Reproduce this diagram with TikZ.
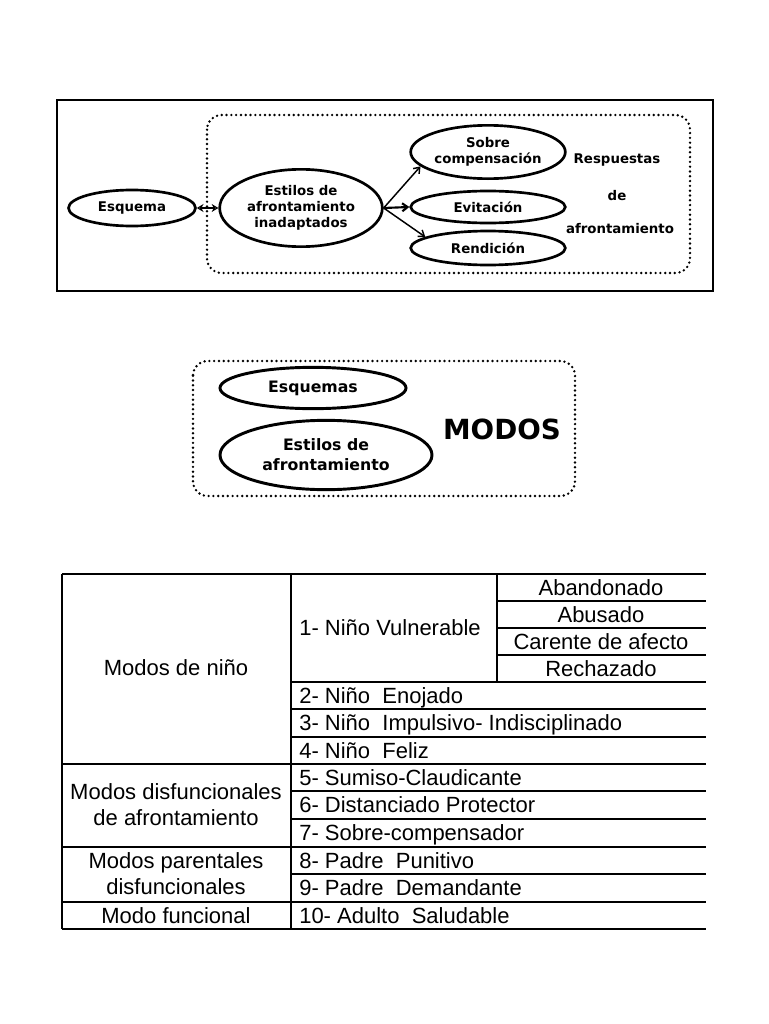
\documentclass[tikz,border=0pt]{standalone}
\usepackage{fontspec}
\setmainfont{Liberation Sans}
\newfontfamily\dvfont{DejaVu Sans}
\usetikzlibrary{shapes.geometric,arrows.meta}
\begin{document}
\begin{tikzpicture}[x=0.75pt,y=-0.75pt,
  ell/.style={draw, ellipse, line width=2pt, inner sep=0pt, align=center,
    font=\dvfont\bfseries\fontsize{10}{12}\selectfont},
  ellb/.style={draw, ellipse, line width=2.2pt, inner sep=0pt, align=center,
    font=\dvfont\bfseries\fontsize{11.8}{15}\selectfont},
  dotbox/.style={draw, line width=2pt, dash pattern=on 0pt off 3.6pt, line cap=round, rounded corners=11pt},
  lbl/.style={font=\dvfont\bfseries\fontsize{10}{12}\selectfont, inner sep=0pt},
  arr/.style={line width=1.1pt, -{Straight Barb[length=4pt,width=6pt]}},
  tl/.style={line width=1.05pt},
  tt/.style={font=\fontsize{16.5}{19.5}\selectfont, inner sep=0pt, align=center},
  tc/.style={tt, text height=11.8pt, text depth=0pt},
]
\useasboundingbox[fill=white] (0,0) rectangle (768,1024);

% ---------- top diagram ----------
\draw[line width=1.1pt] (57,100) rectangle (713,291);
\draw[dotbox] (207,115) rectangle (690,273);

\node[ell, minimum width=95.25pt, minimum height=27pt] (esq) at (132,208) {Esquema};
\node[ell, minimum width=122pt, minimum height=58pt] (est) at (301,208) {Estilos de\\afrontamiento\\inadaptados};
\node[ell, minimum width=116pt, minimum height=40pt] (sob) at (488,152) {Sobre\\compensación};
\node[ell, minimum width=116pt, minimum height=24pt] (evi) at (488,207) {Evitación};
\node[ell, minimum width=116pt, minimum height=25.5pt] (ren) at (488,248) {Rendición};

\node[lbl] (r1) at (617,160) {Respuestas};
\node[lbl] (r2) at (617,196) {de};
\node[lbl] (r3) at (620,229) {afrontamiento};

\draw[line width=1.6pt, {Stealth[open,length=5pt,width=6pt]}-{Stealth[open,length=5pt,width=6pt]}] (esq.east) -- (est.west);
\draw[arr] (est.east) -- (sob.192);
\draw[arr, line width=1.6pt] (est.east) -- (evi.west);
\draw[arr] (est.east) -- (ren.170);

% ---------- middle diagram ----------
\draw[dotbox] (193,361) rectangle (575,496);
\node[ellb, minimum width=139.5pt, minimum height=31pt] (esqs) at (313,388) {Esquemas};
\node[ellb, minimum width=159pt, minimum height=52pt] (esta) at (326,455) {Estilos de\\afrontamiento};
\node[font=\dvfont\bfseries\fontsize{20.8}{24}\selectfont, inner sep=0pt] (modos) at (502,429) {MODOS};

% ---------- table ----------
\draw[tl] (62,574) -- (706,574);
\draw[tl] (62,929) -- (706,929);
\draw[tl] (62,574) -- (62,929);
\draw[tl] (291,574) -- (291,929);
\draw[tl] (497,574) -- (497,682);
\foreach \y in {601,628,655} \draw[tl] (497,\y) -- (706,\y);
\foreach \y in {682,709,737,791,819,874} \draw[tl] (291,\y) -- (706,\y);
\foreach \y in {764,847,902} \draw[tl] (62,\y) -- (706,\y);

\node[tc] (g1) at (176,668) {Modos de niño};
\node[tt] (g2) at (176,805) {Modos disfuncionales\\de afrontamiento};
\node[tt] (g3) at (176,874) {Modos parentales\\disfuncionales};
\node[tc] (g4) at (176,915.5) {Modo funcional};

\node[tc, anchor=west] (m1) at (299,628) {1- Niño Vulnerable};
\node[tc] (s1) at (601,587.5) {Abandonado};
\node[tc] (s2) at (601,614.5) {Abusado};
\node[tc] (s3) at (601,641.5) {Carente de afecto};
\node[tc] (s4) at (601,668.5) {Rechazado};

\node[tc, anchor=west] (m2) at (299,695.5) {2- Niño\ \ Enojado};
\node[tc, anchor=west] (m3) at (299,723) {3- Niño\ \ Impulsivo- Indisciplinado};
\node[tc, anchor=west] (m4) at (299,750.5) {4- Niño\ \ Feliz};
\node[tc, anchor=west] (m5) at (299,777.5) {5- Sumiso-Claudicante};
\node[tc, anchor=west] (m6) at (299,805) {6- Distanciado Protector};
\node[tc, anchor=west] (m7) at (299,833) {7- Sobre-compensador};
\node[tc, anchor=west] (m8) at (299,860.5) {8- Padre\ \ Punitivo};
\node[tc, anchor=west] (m9) at (299,888) {9- Padre\ \ Demandante};
\node[tc, anchor=west] (m10) at (299,915.5) {10- Adulto\ \ Saludable};
\end{tikzpicture}
\end{document}
